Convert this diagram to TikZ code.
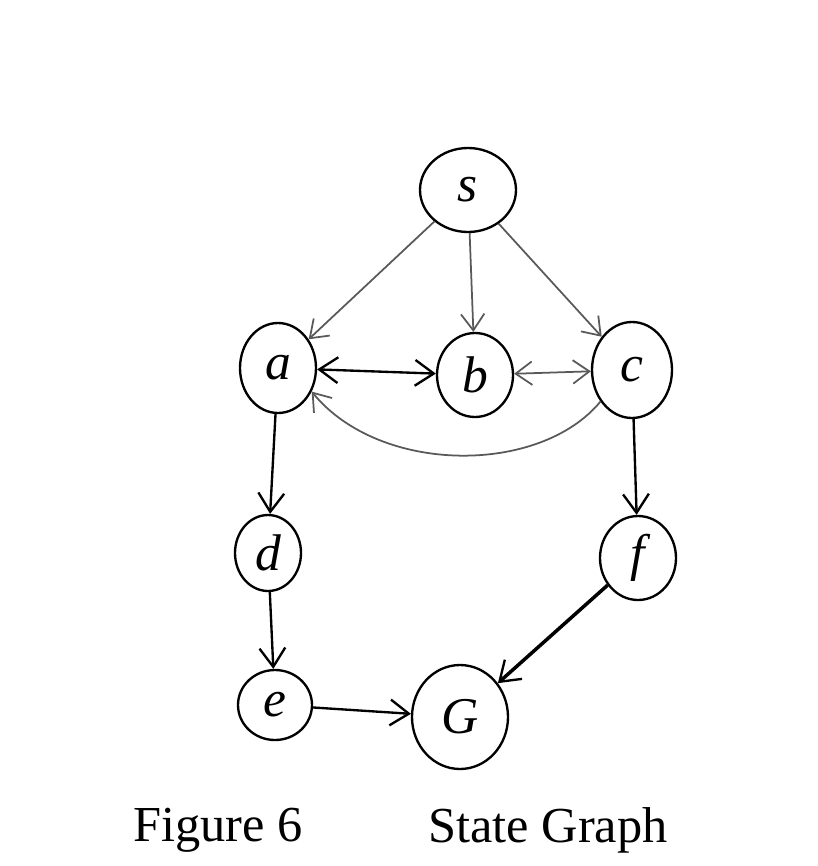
\documentclass[tikz,border=0pt]{standalone}
\usepackage{fontspec}
\setmainfont{Liberation Serif}
\usetikzlibrary{shapes.geometric,arrows.meta}
\begin{document}
\begin{tikzpicture}[x=0.03cm,y=-0.03cm,
  st/.style={ellipse,draw,line width=2pt,inner sep=0pt,font=\fontsize{44}{44}\selectfont\itshape},
  ed/.style={draw,line width=2pt,-{Straight Barb[length=16pt,width=22pt,line width=2pt]}},
  edl/.style={draw,gray!70!black,line width=1.5pt,-{Straight Barb[length=14pt,width=20pt,line width=1.5pt]}},
  captxt/.style={font=\fontsize{43}{43}\selectfont}]
\useasboundingbox (0,0) rectangle (818,866);
\node[st,minimum width=96*0.03cm,minimum height=84*0.03cm] (S) at (468,190) {s};
\node[st,minimum width=76*0.03cm,minimum height=90*0.03cm] (a) at (278,368) {a};
\node[st,minimum width=76*0.03cm,minimum height=84*0.03cm] (b) at (475,375) {b};
\node[st,minimum width=80*0.03cm,minimum height=96*0.03cm] (c) at (632,370) {c};
\node[st,minimum width=66*0.03cm,minimum height=76*0.03cm] (d) at (268,553) {d};
\node[st,minimum width=76*0.03cm,minimum height=84*0.03cm] (f) at (638,558) {f};
\node[st,minimum width=74*0.03cm,minimum height=70*0.03cm] (e) at (275,705) {e};
\node[st,minimum width=96*0.03cm,minimum height=104*0.03cm] (G) at (460,717) {G};
\path[edl] (S) -- (a);
\path[edl] (S) -- (b);
\path[edl] (S) -- (c);
\path[ed,{Straight Barb[length=16pt,width=22pt,line width=2pt]}-{Straight Barb[length=16pt,width=22pt,line width=2pt]}] (a) -- (b);
\path[edl,{Straight Barb[length=14pt,width=20pt,line width=1.5pt]}-{Straight Barb[length=14pt,width=20pt,line width=1.5pt]}] (b) -- (c);
\path[edl] (c.225) .. controls (540,475) and (380,475) .. (a.-35);
\path[ed] (a) -- (d);
\path[ed] (d) -- (e);
\path[ed] (e) -- (G);
\path[ed] (c) -- (f);
\path[ed,line width=3pt] (f) -- (G);
\node[captxt] (fig) at (218,830) {Figure 6};
\node[captxt] (title) at (548,830) {State Graph};
\end{tikzpicture}
\end{document}
